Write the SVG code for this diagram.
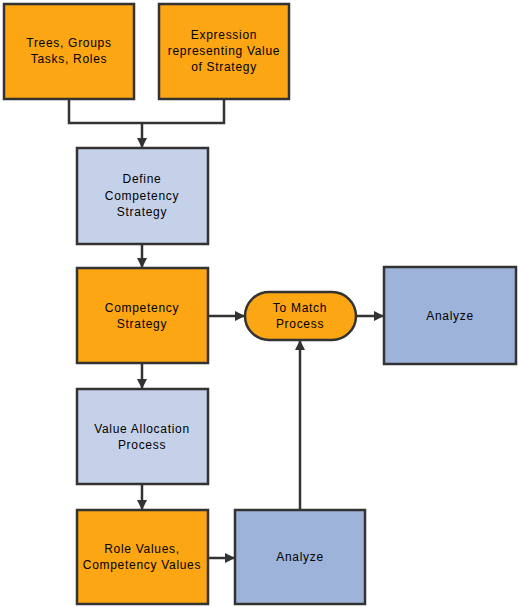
<svg xmlns="http://www.w3.org/2000/svg" width="518" height="607" viewBox="0 0 518 607">
<style>
.n{stroke:#333;stroke-width:2.5}
.o{fill:#FBA612}
.l{fill:#C5D1E8}
.d{fill:#9DB3DA}
text{font-family:"Liberation Sans",Arial,sans-serif;font-size:12px;letter-spacing:0.7px;fill:#000;text-anchor:middle}
.c{fill:none;stroke:#333;stroke-width:2.5}
</style>
<defs>
<marker id="a" markerWidth="10" markerHeight="10" refX="9" refY="5" orient="auto" markerUnits="userSpaceOnUse">
<path d="M0,0 L10,5 L0,10 z" fill="#333"/>
</marker>
</defs>
<rect width="518" height="607" fill="#fff"/>
<g id="connectors">
<path class="c" d="M69,99 V123 H224 V99"/>
<path class="c" d="M142,123 V147" marker-end="url(#a)"/>
<path class="c" d="M142,244 V267" marker-end="url(#a)"/>
<path class="c" d="M208,316 H244" marker-end="url(#a)"/>
<path class="c" d="M356,316 H383" marker-end="url(#a)"/>
<path class="c" d="M142,363 V388" marker-end="url(#a)"/>
<path class="c" d="M142,484 V509" marker-end="url(#a)"/>
<path class="c" d="M208,558 H234" marker-end="url(#a)"/>
<path class="c" d="M300,510 V341" marker-end="url(#a)"/>
</g>
<g id="trees">
<rect class="n o" x="4" y="4" width="130" height="95"/>
<text x="69" y="47">Trees, Groups</text>
<text x="69" y="63">Tasks, Roles</text>
</g>
<g id="expression">
<rect class="n o" x="159" y="4" width="130" height="95"/>
<text x="224" y="39">Expression</text>
<text x="224" y="55">representing Value</text>
<text x="224" y="71">of Strategy</text>
</g>
<g id="define">
<rect class="n l" x="77" y="148" width="131" height="96"/>
<text x="142" y="183">Define</text>
<text x="142" y="200">Competency</text>
<text x="142" y="216">Strategy</text>
</g>
<g id="strategy">
<rect class="n o" x="77" y="268" width="131" height="95"/>
<text x="142" y="312">Competency</text>
<text x="142" y="328">Strategy</text>
</g>
<g id="match">
<rect class="n o" x="245" y="292" width="111" height="48" rx="24" ry="24"/>
<text x="300" y="312">To Match</text>
<text x="300" y="328">Process</text>
</g>
<g id="analyze1">
<rect class="n d" x="384" y="267" width="132" height="97"/>
<text x="450" y="320">Analyze</text>
</g>
<g id="allocation">
<rect class="n l" x="77" y="389" width="131" height="95"/>
<text x="142" y="433">Value Allocation</text>
<text x="142" y="449">Process</text>
</g>
<g id="rolevalues">
<rect class="n o" x="77" y="510" width="131" height="94"/>
<text x="142" y="553">Role Values,</text>
<text x="142" y="569">Competency Values</text>
</g>
<g id="analyze2">
<rect class="n d" x="235" y="510" width="130" height="94"/>
<text x="300" y="561">Analyze</text>
</g>
</svg>
